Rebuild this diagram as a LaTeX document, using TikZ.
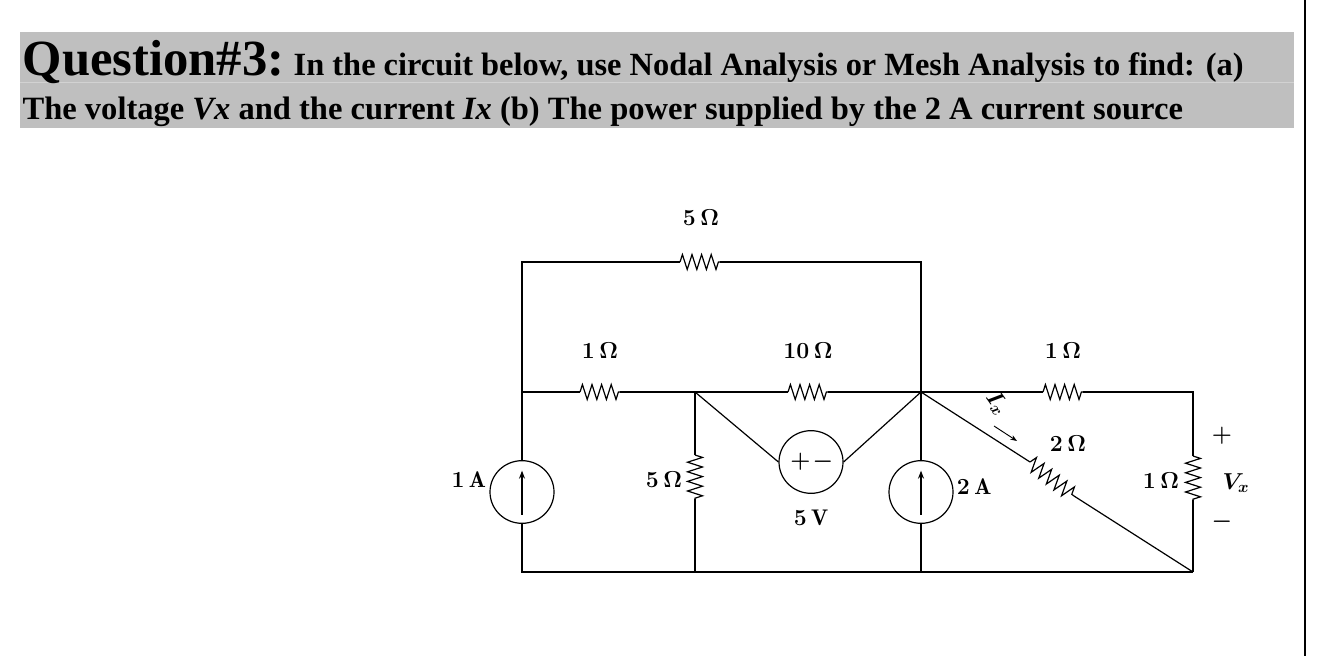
\documentclass[tikz,border=0pt]{standalone}
\usepackage{amsmath}
\usepackage{fontspec}
\newfontfamily\hdr{Liberation Serif}
\usetikzlibrary{decorations.pathmorphing,arrows.meta,shapes.geometric}
\begin{document}
\begin{tikzpicture}[x=0.75pt,y=-0.75pt,line width=0.9pt,
  res/.style={decorate,decoration={zigzag,segment length=7.2pt,amplitude=5.6pt,pre length=0pt,post length=0pt}},
  src/.style={draw,ellipse,minimum width=48pt,minimum height=47pt,inner sep=0pt},
  lbl/.style={font=\fontsize{17}{19}\selectfont\boldmath,inner sep=1pt}]
\useasboundingbox (0,0) rectangle (1320,656);
% header
\fill[gray!50] (20,32) rectangle (1294,128);
\draw[gray!35,line width=0.6pt] (20,82) -- (1294,82);
\draw[line width=0.8pt] (1305,0) -- (1305,656);
\node[anchor=base west,inner sep=0] (h1) at (22,76) {\hdr\bfseries{\fontsize{38}{40}\selectfont Question\#3:}\hspace{7pt}\fontsize{24.3}{28}\selectfont In the circuit below, use Nodal Analysis or Mesh Analysis to find: (a)};
\node[anchor=base west,inner sep=0] (h2) at (22,120) {\hdr\bfseries\fontsize{24.4}{28}\selectfont The voltage \textit{Vx} and the current \textit{Ix} (b) The power supplied by the 2 A current source};
% coordinates
\coordinate (TL) at (522,262); \coordinate (TR) at (921,262);
\coordinate (ML) at (522,392); \coordinate (M1) at (695,392); \coordinate (M2) at (921,392); \coordinate (MR) at (1193,392);
\coordinate (BL) at (522,572); \coordinate (B1) at (695,572); \coordinate (B2) at (921,572); \coordinate (BR) at (1193,572);
% sources
\node[src] (s1) at (522,492) {};
\node[src] (s2) at (921,492) {};
\node[src] (s5) at (811,462) {};
\draw[-{Stealth[length=6pt]},line width=0.9pt] ([yshift=-17pt]s1.center) -- ([yshift=16pt]s1.center);
\draw[-{Stealth[length=6pt]},line width=0.9pt] ([yshift=-17pt]s2.center) -- ([yshift=16pt]s2.center);
\node[lbl] at ([xshift=-8pt]s5.center) {$+$};
\node[lbl] at ([xshift=9pt]s5.center) {$-$};
% top wire with 5 ohm
\draw (ML) -- (TL) -- (680,262);
\draw[res] (680,262) -- (720,262);
\draw (720,262) -- (TR) -- (M2);
\node[lbl] (l5t) at (701,218) {$5\,\Omega$};
% middle wire
\draw (ML) -- (580,392); \draw[res] (580,392) -- (620,392); \draw (620,392) -- (M1) -- (788,392);
\draw[res] (788,392) -- (828,392); \draw (828,392) -- (M2) -- (1043,392);
\draw[res] (1043,392) -- (1083,392); \draw (1083,392) -- (MR) -- (1193,456);
\draw[res] (1193,456) -- (1193,500); \draw (1193,500) -- (BR);
\node[lbl] at (600,351) {$1\,\Omega$};
\node[lbl] at (808,351) {$10\,\Omega$};
\node[lbl] at (1063,351) {$1\,\Omega$};
% left source
\draw (ML) -- (s1.north); \draw (s1.south) -- (BL) -- (BR);
\node[lbl,anchor=east] at (488,480) {$1\,\mathrm{A}$};
% 5 ohm vertical
\draw (M1) -- (695,455); \draw[res] (695,455) -- (695,499); \draw (695,499) -- (B1);
\node[lbl,anchor=east] at (684,480) {$5\,\Omega$};
% 5V
\draw (M1) -- (s5.west); \draw (s5.east) -- (M2);
\node[lbl] at (811,518) {$5\,\mathrm{V}$};
% 2A
\draw (M2) -- (s2.north); \draw (s2.south) -- (B2);
\node[lbl,anchor=west] at (955,487) {$2\,\mathrm{A}$};
% 2 ohm diagonal
\draw (M2) -- (1030,462); \draw[res] (1030,462) -- (1074,496); \draw (1074,496) -- (BR);
\node[lbl] at (1068,444) {$2\,\Omega$};
\draw[-{Stealth[length=5pt]},line width=0.7pt] (994,426) -- (1017,441);
\node[lbl,rotate=-55] at (997,403) {$I_x$};
% Vx
\node[lbl,anchor=east] at (1181,481) {$1\,\Omega$};
\node[lbl] at (1236,483) {$V_x$};
\node[lbl] at (1222,436) {$+$};
\node[lbl] at (1222,522) {$-$};
\end{tikzpicture}
\end{document}
